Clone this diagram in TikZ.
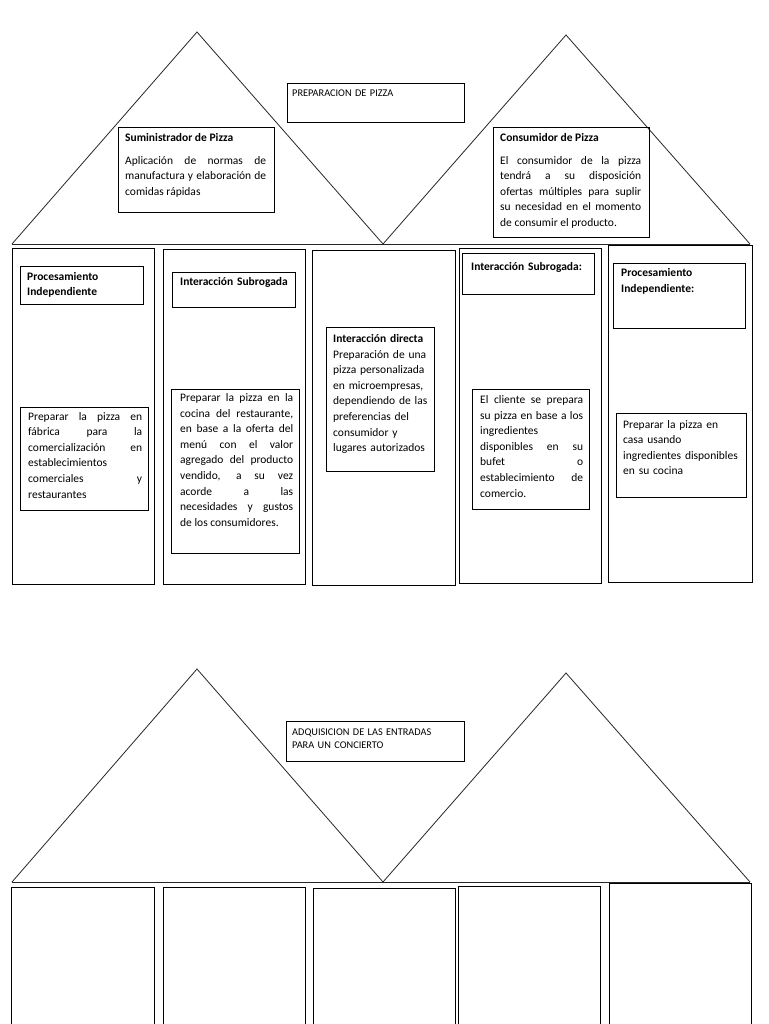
\documentclass[tikz,border=0pt]{standalone}
\usepackage{fontspec}
\setmainfont{Carlito}
\usepackage{tikz}
\tolerance=10000
\hbadness=10000
\hyphenpenalty=10000
\newcommand{\txtfont}{\fontsize{11.5}{15.6}\selectfont}
\newcommand{\ttlfont}{\fontsize{10.3}{13}\selectfont}
\tikzset{
  roofline/.style={line width=0.8pt, draw=black!85},
  colbox/.style={draw, line width=1pt, anchor=north west, inner sep=0pt},
  infobox/.style={draw, line width=1.1pt, anchor=north west, inner sep=0pt},
  boxtext/.style={anchor=base west, inner sep=0pt, align=justify, font=\txtfont},
  headtext/.style={anchor=base west, inner sep=0pt, align=left, font=\txtfont\bfseries},
  titletext/.style={anchor=base west, inner sep=0pt, align=left, font=\ttlfont},
}

\begin{document}
\begin{tikzpicture}[x=1pt, y=-1pt]
  \useasboundingbox (0,0) rectangle (768,1024);

  % Upper house: roofs
  \draw[roofline] (12,244) -- (197,32) -- (383,244) -- (566,35) -- (750,244);
  \draw[roofline] (12,244) -- (750,244);

  % Title
  \node[infobox, minimum width=177pt, minimum height=39pt] (title1box) at (287,83) {};
  \node[titletext, text width=160pt] (title1) at (292,96.5) {PREPARACION DE PIZZA};

  % Supplier and consumer
  \node[infobox, minimum width=156pt, minimum height=85pt] (supbox) at (118,127) {};
  \node[boxtext, text width=141pt] (sup) at (125,142) {\textbf{Suministrador de Pizza}\\[6.5pt]Aplicación de normas de\linebreak manufactura y elaboración de\linebreak comidas rápidas};
  \node[infobox, minimum width=156pt, minimum height=110pt] (conbox) at (493,127) {};
  \node[boxtext, text width=141pt] (con) at (500,142) {\textbf{Consumidor de Pizza}\\[6.5pt]El consumidor de la pizza\linebreak tendrá a su disposición\linebreak ofertas múltiples para suplir\linebreak su necesidad en el momento\linebreak de consumir el producto.};

  % Column 1
  \node[colbox, minimum width=142pt, minimum height=336pt] (col1) at (12,248) {};
  \node[infobox, minimum width=123pt, minimum height=38pt] (indep1box) at (20,266) {};
  \node[headtext, text width=110pt] (indep1) at (27,280) {Procesamiento\\Independiente};
  \node[infobox, minimum width=128pt, minimum height=103pt] (fabbox) at (20,407) {};
  \node[boxtext, text width=114pt] (fab) at (28,420) {Preparar la pizza en\linebreak fábrica para la\linebreak comercialización en\linebreak establecimientos\linebreak comerciales y\linebreak restaurantes};

  % Column 2
  \node[colbox, minimum width=142pt, minimum height=335pt] (col2) at (163,249) {};
  \node[infobox, minimum width=123pt, minimum height=35pt] (surr1box) at (172,272) {};
  \node[headtext, text width=115pt] (surr1) at (180,285.5) {Interacción Subrogada};
  \node[infobox, minimum width=128pt, minimum height=164pt] (restbox) at (171,389) {};
  \node[boxtext, text width=113pt] (rest) at (180,401.5) {Preparar la pizza en la\linebreak cocina del restaurante,\linebreak en base a la oferta del\linebreak menú con el valor\linebreak agregado del producto\linebreak vendido, a su vez\linebreak acorde a las\linebreak necesidades y gustos\linebreak de los consumidores.};

  % Column 3
  \node[colbox, minimum width=143pt, minimum height=335pt] (col3) at (312,250) {};
  \node[infobox, minimum width=108pt, minimum height=144pt] (directbox) at (326,327) {};
  \node[boxtext, align=left, text width=100pt] (direct) at (333,342.5) {\textbf{Interacción directa}\\Preparación de una\\pizza personalizada\\en microempresas,\\dependiendo de las\\preferencias del\\consumidor y\\lugares autorizados};

  % Column 4
  \node[colbox, minimum width=142pt, minimum height=335pt] (col4) at (459,248) {};
  \node[infobox, minimum width=132pt, minimum height=41pt] (surr2box) at (462,253) {};
  \node[headtext, text width=120pt] (surr2) at (471,270.5) {Interacción Subrogada:};
  \node[infobox, minimum width=117pt, minimum height=120pt] (bufetbox) at (472,389) {};
  \node[boxtext, text width=103pt] (bufet) at (480,403.5) {El cliente se prepara\linebreak su pizza en base a los\linebreak ingredientes\linebreak disponibles en su\linebreak bufet o\linebreak establecimiento de\linebreak comercio.};

  % Column 5
  \node[colbox, minimum width=144pt, minimum height=337pt] (col5) at (608,245) {};
  \node[infobox, minimum width=132pt, minimum height=65pt] (indep2box) at (613,263) {};
  \node[headtext, text width=120pt] (indep2) at (621,276.5) {Procesamiento\\Independiente:};
  \node[infobox, minimum width=130pt, minimum height=84pt] (casabox) at (616,413) {};
  \node[boxtext, align=left, text width=120pt] (casa) at (623,428) {Preparar la pizza en\\casa usando\\ingredientes disponibles\\en su cocina};

  % Lower house: roofs
  \draw[roofline] (12,882) -- (197,669) -- (383,882) -- (566,673) -- (750,882);
  \draw[roofline] (12,882) -- (750,882);

  % Title
  \node[infobox, minimum width=178pt, minimum height=40pt] (title2box) at (286,721) {};
  \node[titletext, text width=165pt] (title2) at (292,735.5) {ADQUISICION DE LAS ENTRADAS\\PARA UN CONCIERTO};

  % Empty columns
  \node[colbox, minimum width=143pt, minimum height=150pt] (low1) at (11,887) {};
  \node[colbox, minimum width=142pt, minimum height=150pt] (low2) at (163,887) {};
  \node[colbox, minimum width=142pt, minimum height=150pt] (low3) at (313,888) {};
  \node[colbox, minimum width=142pt, minimum height=150pt] (low4) at (458,886) {};
  \node[colbox, minimum width=142pt, minimum height=150pt] (low5) at (609,883) {};
\end{tikzpicture}
\end{document}
